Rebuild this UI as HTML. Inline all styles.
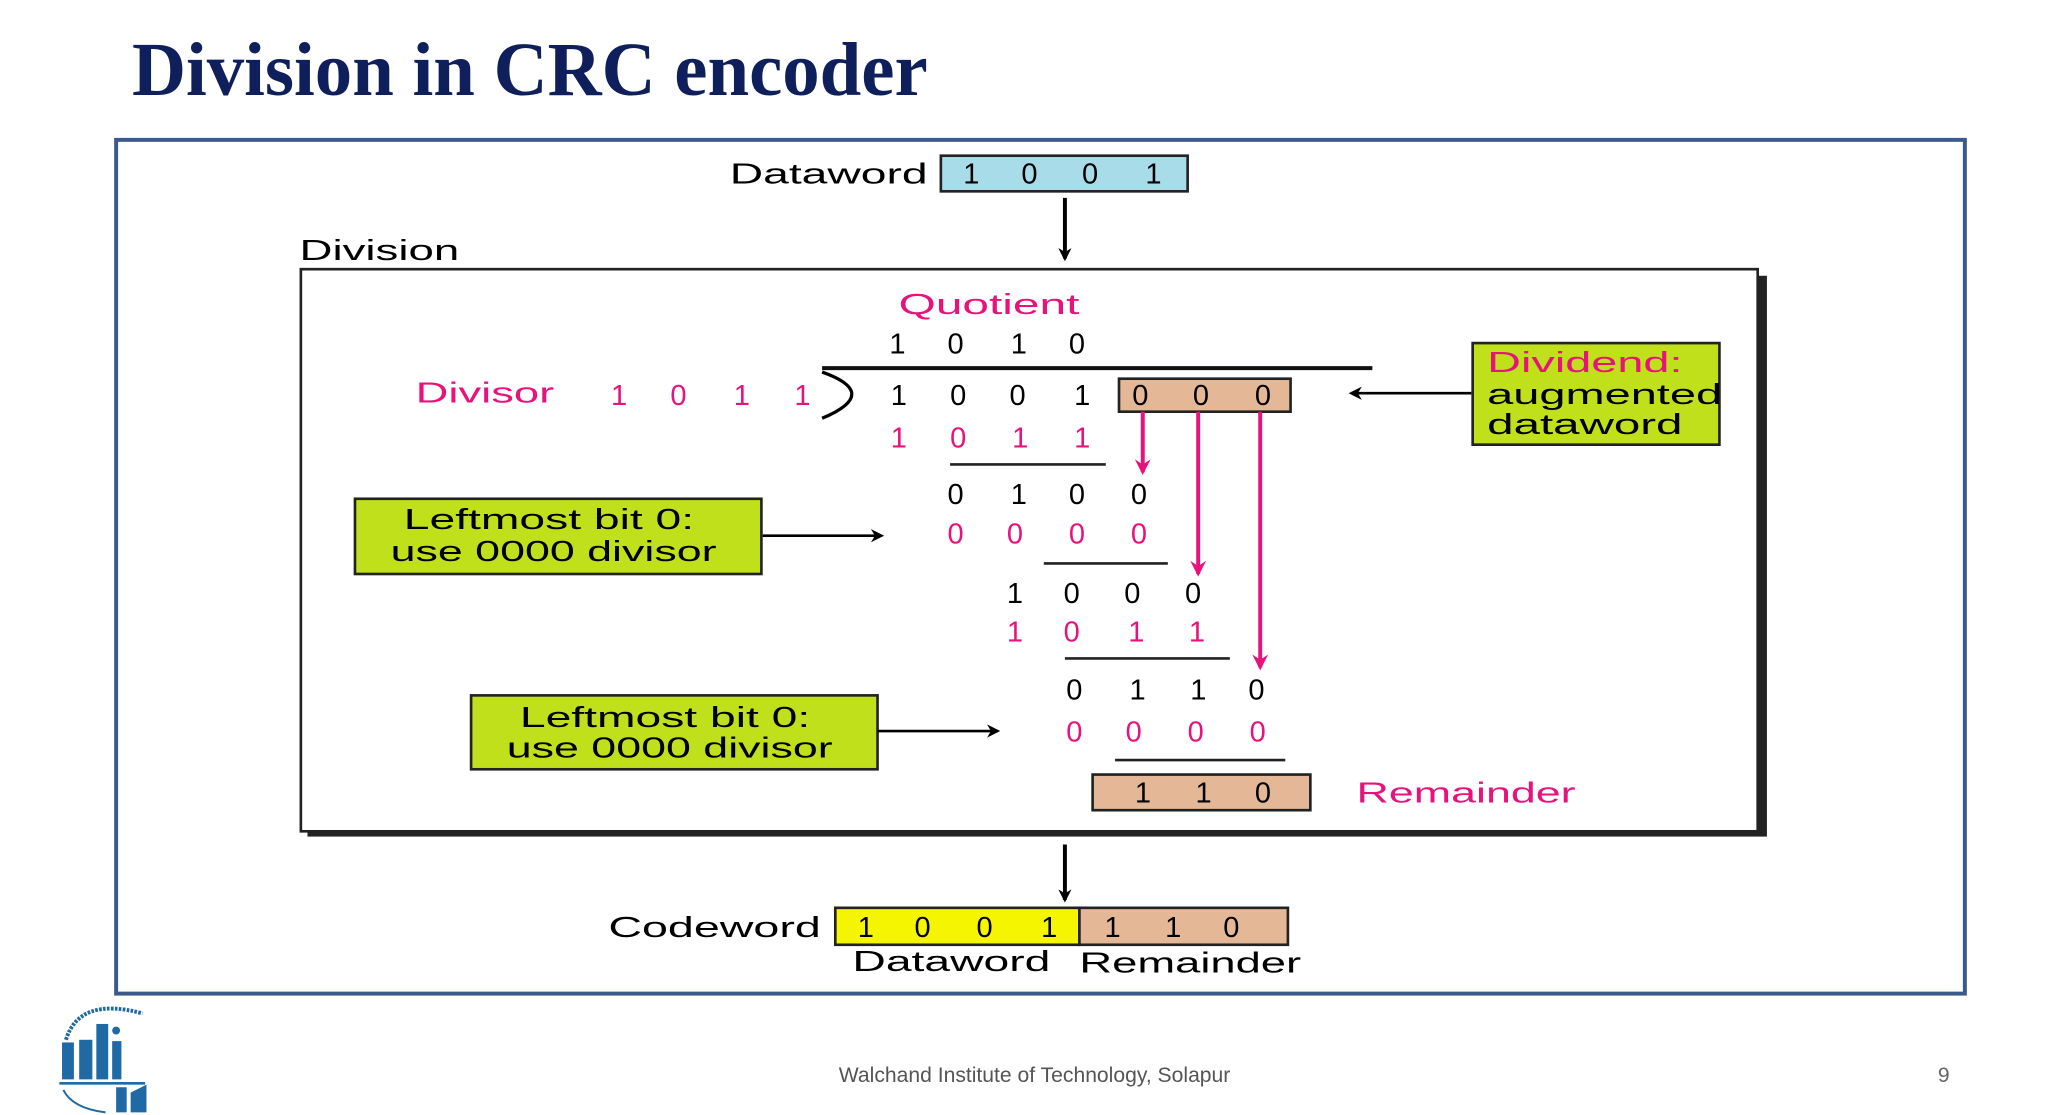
<!DOCTYPE html>
<html><head><meta charset="utf-8"><style>
html,body{margin:0;padding:0;background:#fff;}
svg{display:block;}
text{font-family:"Liberation Sans",sans-serif;}
</style></head><body>
<svg width="2048" height="1115" viewBox="0 0 1552 845" preserveAspectRatio="none" xmlns="http://www.w3.org/2000/svg">
<defs>
<marker id="ab" markerWidth="10" markerHeight="10" refX="8" refY="5" orient="auto" markerUnits="userSpaceOnUse"><path d="M0,0 L10,5 L0,10 L3,5 z" fill="#000"/></marker>
<marker id="ap" markerWidth="12" markerHeight="14" refX="10" refY="6" orient="auto" markerUnits="userSpaceOnUse"><path d="M0,0 L12,6 L0,12 L4,6 z" fill="#e8127c"/></marker>
</defs>
<text x="100" y="72" font-family="Liberation Serif" font-weight="bold" font-size="58" fill="#0f1f5c" textLength="603" lengthAdjust="spacingAndGlyphs" style="font-family:'Liberation Serif',serif">Division in CRC encoder</text>
<rect x="88" y="106" width="1401" height="647" fill="none" stroke="#3a5a8c" stroke-width="3"/>
<g font-size="22" fill="#000">
<text x="553" y="139" textLength="150" lengthAdjust="spacingAndGlyphs">Dataword</text>
<rect x="713" y="118" width="187" height="27" fill="#a8dce8" stroke="#222" stroke-width="2"/>
<text x="730" y="139">1</text><text x="774" y="139">0</text><text x="820" y="139">0</text><text x="868" y="139">1</text>
<line x1="807" y1="150" x2="807" y2="196" stroke="#000" stroke-width="3" marker-end="url(#ab)"/>
<text x="227" y="197" textLength="121" lengthAdjust="spacingAndGlyphs">Division</text>
<rect x="233" y="209" width="1106" height="425" fill="#222"/>
<rect x="228" y="204" width="1104" height="426" fill="#fff" stroke="#222" stroke-width="2"/>
<text x="681" y="238" fill="#e8127c" textLength="137" lengthAdjust="spacingAndGlyphs">Quotient</text>
<g><text x="674" y="268">1</text><text x="718" y="268">0</text><text x="766" y="268">1</text><text x="810" y="268">0</text></g>
<line x1="623" y1="279" x2="1040" y2="279" stroke="#111" stroke-width="3"/>
<text x="315" y="305" fill="#e8127c" textLength="105" lengthAdjust="spacingAndGlyphs">Divisor</text>
<g fill="#e8127c"><text x="463" y="307">1</text><text x="508" y="307">0</text><text x="556" y="307">1</text><text x="602" y="307">1</text></g>
<path d="M623,282 Q668,298 623,317" fill="none" stroke="#000" stroke-width="2.5"/>
<g><text x="675" y="307">1</text><text x="720" y="307">0</text><text x="765" y="307">0</text><text x="814" y="307">1</text></g>
<rect x="848" y="287" width="130" height="25" fill="#e4b896" stroke="#222" stroke-width="2"/>
<g><text x="858" y="307">0</text><text x="904" y="307">0</text><text x="951" y="307">0</text></g>
<line x1="1115" y1="298" x2="1024" y2="298" stroke="#000" stroke-width="2" marker-end="url(#ab)"/>
<rect x="1116" y="260" width="187" height="77" fill="#bfe01a" stroke="#222" stroke-width="2"/>
<text x="1127" y="282" fill="#e8127c" textLength="148" lengthAdjust="spacingAndGlyphs">Dividend:</text>
<text x="1127" y="306" textLength="178" lengthAdjust="spacingAndGlyphs">augmented</text>
<text x="1127" y="329" textLength="148" lengthAdjust="spacingAndGlyphs">dataword</text>
<g fill="#e8127c"><text x="675" y="339">1</text><text x="720" y="339">0</text><text x="767" y="339">1</text><text x="814" y="339">1</text></g>
<line x1="720" y1="352" x2="838" y2="352" stroke="#222" stroke-width="2"/>
<g><text x="718" y="382">0</text><text x="766" y="382">1</text><text x="810" y="382">0</text><text x="857" y="382">0</text></g>
<g fill="#e8127c"><text x="718" y="412">0</text><text x="763" y="412">0</text><text x="810" y="412">0</text><text x="857" y="412">0</text></g>
<line x1="791" y1="427" x2="885" y2="427" stroke="#222" stroke-width="2"/>
<g><text x="763" y="457">1</text><text x="806" y="457">0</text><text x="852" y="457">0</text><text x="898" y="457">0</text></g>
<g fill="#e8127c"><text x="763" y="486">1</text><text x="806" y="486">0</text><text x="855" y="486">1</text><text x="901" y="486">1</text></g>
<line x1="807" y1="499" x2="932" y2="499" stroke="#222" stroke-width="2"/>
<g><text x="808" y="530">0</text><text x="856" y="530">1</text><text x="902" y="530">1</text><text x="946" y="530">0</text></g>
<g fill="#e8127c"><text x="808" y="562">0</text><text x="853" y="562">0</text><text x="900" y="562">0</text><text x="947" y="562">0</text></g>
<line x1="845" y1="576" x2="974" y2="576" stroke="#222" stroke-width="2"/>
<rect x="828" y="587" width="165" height="27" fill="#e4b896" stroke="#222" stroke-width="2"/>
<g><text x="860" y="608">1</text><text x="906" y="608">1</text><text x="951" y="608">0</text></g>
<text x="1028" y="608" fill="#e8127c" textLength="166" lengthAdjust="spacingAndGlyphs">Remainder</text>
<g stroke="#e8127c" stroke-width="3">
<line x1="866" y1="312" x2="866" y2="358" marker-end="url(#ap)"/>
<line x1="908" y1="312" x2="908" y2="435" marker-end="url(#ap)"/>
<line x1="955" y1="312" x2="955" y2="506" marker-end="url(#ap)"/>
</g>
<rect x="269" y="378" width="308" height="57" fill="#bfe01a" stroke="#222" stroke-width="2"/>
<text x="306" y="401" textLength="220" lengthAdjust="spacingAndGlyphs">Leftmost bit 0:</text>
<text x="296" y="425" textLength="247" lengthAdjust="spacingAndGlyphs">use 0000 divisor</text>
<line x1="578" y1="406" x2="668" y2="406" stroke="#000" stroke-width="2" marker-end="url(#ab)"/>
<rect x="357" y="527" width="308" height="56" fill="#bfe01a" stroke="#222" stroke-width="2"/>
<text x="394" y="551" textLength="220" lengthAdjust="spacingAndGlyphs">Leftmost bit 0:</text>
<text x="384" y="574" textLength="247" lengthAdjust="spacingAndGlyphs">use 0000 divisor</text>
<line x1="665" y1="554" x2="756" y2="554" stroke="#000" stroke-width="2" marker-end="url(#ab)"/>
<line x1="807" y1="640" x2="807" y2="682" stroke="#000" stroke-width="3" marker-end="url(#ab)"/>
<text x="461" y="710" textLength="161" lengthAdjust="spacingAndGlyphs">Codeword</text>
<rect x="633" y="688" width="185" height="28" fill="#f5f500" stroke="#222" stroke-width="2"/>
<rect x="818" y="688" width="158" height="28" fill="#e4b896" stroke="#222" stroke-width="2"/>
<g><text x="650" y="710">1</text><text x="693" y="710">0</text><text x="740" y="710">0</text><text x="789" y="710">1</text>
<text x="837" y="710">1</text><text x="883" y="710">1</text><text x="927" y="710">0</text></g>
<text x="646" y="736" textLength="150" lengthAdjust="spacingAndGlyphs">Dataword</text>
<text x="818" y="737" textLength="168" lengthAdjust="spacingAndGlyphs">Remainder</text>
</g>
<text x="784" y="820" font-size="16" fill="#555" text-anchor="middle">Walchand Institute of Technology, Solapur</text>
<text x="1473" y="820" font-size="16" fill="#666" text-anchor="middle">9</text>
<g fill="#1f6aa5">
<rect x="47" y="790" width="9" height="28"/><rect x="60" y="788" width="10" height="30"/><rect x="73" y="776" width="9" height="42"/>
<circle cx="88" cy="781" r="3"/><rect x="85" y="789" width="7" height="29"/>
<rect x="45" y="820" width="65" height="2"/>
<path d="M88,824 L96,824 L96,843 L88,843 z"/><path d="M99,828 L111,822 L111,843 L99,843 z"/>
</g>
<path d="M48,826 Q55,840 80,843" fill="none" stroke="#1f6aa5" stroke-width="1.5"/>
<path d="M50,788 Q60,755 108,768" fill="none" stroke="#1f6aa5" stroke-width="3" stroke-dasharray="2 1"/>
</svg>
</body></html>
